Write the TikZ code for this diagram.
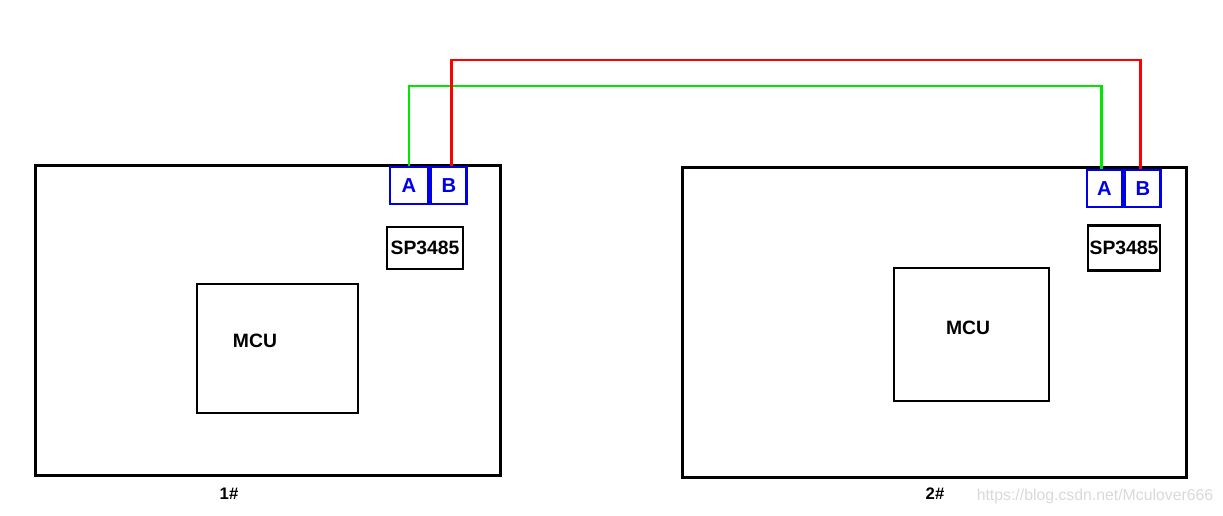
\documentclass[tikz,border=0pt]{standalone}
\usepackage{fontspec}
\setmainfont{Liberation Sans}
\usepackage{xcolor}
\usetikzlibrary{positioning}

\definecolor{wiregreen}{RGB}{0,230,0}
\definecolor{wirered}{RGB}{255,0,0}
\definecolor{portblue}{RGB}{0,0,230}

\begin{document}
\begin{tikzpicture}[
  x=0.02cm, y=-0.02cm,
  font=\bfseries,
  board/.style={draw, line width=1.7pt, inner sep=0pt},
  chip/.style={draw, line width=1.5pt, inner sep=0pt, font=\bfseries\fontsize{11}{13}\selectfont},
  port/.style={draw=portblue, text=portblue, line width=1.6pt, inner sep=0pt, minimum height=0.74cm, font=\bfseries\fontsize{11.5}{13}\selectfont},
  wire/.style={line width=1.6pt}
]
  \useasboundingbox (0,0) rectangle (1223,515);

  % Boards
  \node[board, minimum width=9.32cm, minimum height=6.22cm] (bdA) at (268,320.5) {};
  \node[board, minimum width=10.1cm, minimum height=6.22cm] (bdB) at (934.5,322.5) {};

  % Board 1#
  \node[port, minimum width=0.76cm] (pa1) at (409,185.5) {A};
  \node[port, minimum width=0.72cm, right=0pt of pa1] (pb1) {B};
  \node[chip, minimum width=1.52cm, minimum height=0.84cm] (sp1) at (425,248) {SP3485};
  \node[chip, minimum width=3.22cm, minimum height=2.58cm] (mcu1) at (277.5,348.5) {};
  \node[font=\bfseries\fontsize{11}{13}\selectfont] (mcuA) at (255,341) {MCU};
  \node[font=\bfseries\fontsize{9.5}{11}\selectfont] (nA) at (229,494) {1\#};

  % Board 2#
  \node[port, minimum width=0.70cm] (pa2) at (1104.5,188.5) {A};
  \node[port, minimum width=0.72cm, right=0pt of pa2] (pb2) {B};
  \node[chip, minimum width=1.44cm, minimum height=0.9cm] (sp2) at (1124,248) {SP3485};
  \node[chip, minimum width=3.1cm, minimum height=2.66cm] (mcu2) at (971.5,334.5) {};
  \node[font=\bfseries\fontsize{11}{13}\selectfont] (mcuB) at (968,328) {MCU};
  \node[font=\bfseries\fontsize{9.5}{11}\selectfont] (nB) at (935,494) {2\#};

  % Bus wires
  \coordinate (gtop) at (800,86);
  \coordinate (rtop) at (800,60);
  \draw[wire, wiregreen] (pa1.north) |- (gtop) -| ([xshift=-0.06cm]pa2.north);
  \draw[wire, wirered] ([xshift=0.06cm]pb1.north) |- (rtop) -| ([xshift=-0.04cm]pb2.north);

  % Watermark
  \node[font=\fontsize{9}{11}\selectfont, text=gray!30] (wm) at (1095,496) {https://blog.csdn.net/Mculover666};
\end{tikzpicture}
\end{document}
